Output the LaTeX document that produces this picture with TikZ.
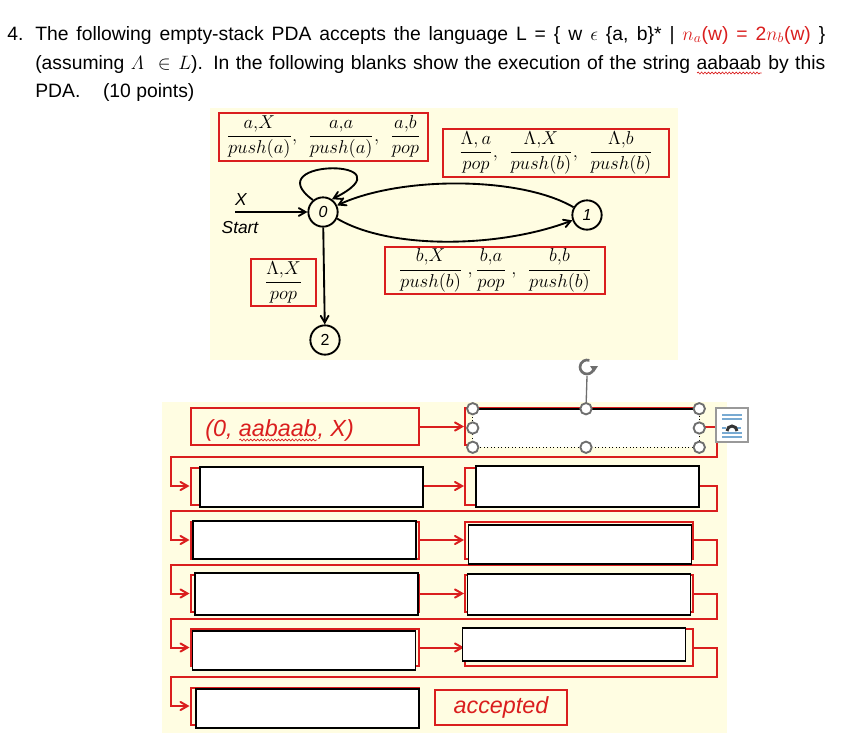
\RequirePackage{fix-cm}
\documentclass[tikz,border=0pt]{standalone}
\usepackage{amsmath,amsfonts}
\usepackage{fontspec}
\setmainfont{Liberation Sans}
\usepackage{tikz}
\usetikzlibrary{arrows,calc,decorations.pathmorphing}

\definecolor{pdared}{RGB}{218,30,30}
\definecolor{pdapaper}{RGB}{255,253,226}
\definecolor{handlegray}{RGB}{110,110,110}
\definecolor{iconblue}{RGB}{120,170,210}

\newlength\wavewd
\newcommand\spellwave[1]{\settowidth\wavewd{#1}\rlap{#1}\tikz[baseline=0pt,x=1pt,y=1pt]{\draw[pdared,line width=0.5pt,decorate,decoration={snake,amplitude=0.7pt,segment length=2.6pt}] (0,-3) -- (\wavewd,-3);}}
\newcommand\lblgap{\hspace{6pt}}

\tikzset{
  pdastate/.style={circle,draw=black,line width=1.4pt,minimum size=22pt,inner sep=0pt,font=\fontsize{12}{14}\selectfont},
  pdatext/.style={inner sep=0pt,font=\fontsize{13}{15}\selectfont\itshape},
  pdaarrow/.style={->,>=angle 60,line width=1.4pt},
  pdalabel/.style={draw=pdared,line width=1.5pt,inner sep=0pt,font=\fontsize{14}{16}\selectfont},
  slot/.style={draw=pdared,line width=1.5pt,minimum width=171pt,minimum height=27.75pt,inner sep=0pt},
  cell/.style={draw=black,fill=white,line width=0.8pt,minimum width=167.25pt,inner sep=0pt},
  link/.style={draw=pdared,line width=1.5pt,->,>=angle 60},
  grip/.style={circle,draw=handlegray,fill=white,line width=1.4pt,minimum size=8.5pt,inner sep=0pt}
}

\begin{document}
\begin{tikzpicture}[x=0.75pt,y=-0.75pt,font=\fontsize{14.5}{17}\selectfont]
    \useasboundingbox (0,0) rectangle (848,750);

    % question
    \node[anchor=base west,inner sep=0pt] (qnum) at (7,40) {4.};
    \node[anchor=base west,inner sep=0pt] (qline1) at (35,40) {\hbox to 592.5pt{The following empty-stack PDA accepts the language L = \{ w $\epsilon$ \{a, b\}* | \textcolor{pdared}{$n_a$(w) = 2$n_b$(w)} \}}};
    \node[anchor=base west,inner sep=0pt] (qline2) at (35,69) {\hbox to 592.5pt{(assuming $\mathnormal{\Lambda}\ \in L$). In the following blanks show the execution of the string \spellwave{aabaab} by this}};
    \node[anchor=base west,inner sep=0pt] (qline3) at (35,97) {PDA.\hspace{17pt}(10 points)};

    % PDA
    \fill[pdapaper] (210,108) rectangle (678,360);
    \node[pdastate] (q0) at (323,212) {\itshape 0};
    \node[pdastate] (q1) at (587,215) {\itshape 1};
    \node[pdastate] (q2) at (325,340) {2};
    \coordinate (qstart) at (235,212);
    \node[pdatext] (startX) at (241,200) {X};
    \node[pdatext] (startlbl) at (240,228) {Start};

    \draw[pdaarrow] (qstart) -- (q0);
    \draw[pdaarrow] (q0.130) .. controls (255,158) and (415,158) .. (q0.55);
    \draw[pdaarrow] (q1.150) .. controls (520,176) and (400,176) .. (q0.25);
    \draw[pdaarrow] (q0.-25) .. controls (390,250) and (500,248) .. (q1.200);
    \draw[pdaarrow] (q0) -- (q2);

    \node[pdalabel,minimum width=156.75pt,minimum height=36pt] (lbl00) at (323.5,137) {$\dfrac{a{,}X}{push(a)},\lblgap\dfrac{a{,}a}{push(a)},\lblgap\dfrac{a{,}b}{pop}$};
    \node[pdalabel,minimum width=169.5pt,minimum height=36pt] (lbl10) at (556,153) {$\dfrac{\Lambda,a}{pop},\lblgap\dfrac{\Lambda{,}X}{push(b)},\lblgap\dfrac{\Lambda{,}b}{push(b)}$};
    \node[pdalabel,minimum width=48.75pt,minimum height=35.25pt] (lbl02) at (283.5,282.5) {$\dfrac{\Lambda{,}X}{pop}$};
    \node[pdalabel,minimum width=165pt,minimum height=35.25pt] (lbl01) at (495,270.5) {$\dfrac{b{,}X}{push(b)}\;,\dfrac{b{,}a}{pop}\;,\lblgap\dfrac{b{,}b}{push(b)}$};

    % execution blanks
    \fill[pdapaper] (162,402) rectangle (727,733);
    \foreach \n/\y in {1/426.5,2/486,3/540,4/593.5,5/647.5} {
      \node[slot] (sl\n) at (304.5,\y) {};
      \node[slot] (sr\n) at (579,\y) {};
    }
    \node[slot] (sl6) at (304.5,706) {};
    \node[anchor=base west,inner sep=0pt,text=pdared,font=\fontsize{17.5}{20}\selectfont\itshape] (cfg0) at (205,436) {(0, \spellwave{aabaab}, X)};

    \foreach \n in {1,...,5} {
      \draw[link] (sl\n.east) -- (sr\n.west);
    }
    \foreach \n [evaluate=\n as \m using int(\n+1)] in {1,...,5} {
      \draw[link] (sr\n.east) -- ++(23,0) |- ($(sl\m.west)+(-18.5,-29)$) |- (sl\m.west);
    }

    \foreach \n/\lx/\ly/\lh/\rx/\ry/\rh [evaluate=\lh as \lhpt using 0.75*\lh, evaluate=\rh as \rhpt using 0.75*\rh] in {2/311.5/487/40/587.5/486.5/41, 3/304.5/540/38/580/544.5/39, 4/306.5/594/42/579/594.5/41, 5/304/650.5/39/574/644.5/33} {
      \node[cell,minimum height=\lhpt pt] (cl\n) at (\lx,\ly) {};
      \node[cell,minimum height=\rhpt pt] (cr\n) at (\rx,\ry) {};
    }
    \node[cell,minimum height=29.25pt] (cl6) at (307.5,708.5) {};

    \node[draw=pdared,line width=1.5pt,minimum width=99pt,minimum height=26.25pt,inner sep=0pt,text=pdared,font=\fontsize{17.5}{20}\selectfont\itshape] (accept) at (501,707.5) {accepted};

    % selected blank
    \node[fill=white,minimum width=169.5pt,minimum height=28.5pt,inner sep=0pt] (cr1) at (586,428) {};
    \draw[line width=1.2pt] (cr1.north west) -- (cr1.north east);
    \draw[dotted,line width=0.6pt] (cr1.north east) -- (cr1.south east) -- (cr1.south west) -- (cr1.north west);
    \coordinate (rotc) at (587,367);
    \draw[handlegray,line width=1pt] (cr1.north) -- ($(rotc)+(0,9)$);
    \foreach \a/\g in {north west/nw,north/n,north east/ne,east/e,south east/se,south/s,south west/sw,west/w} {
      \node[grip] (g\g) at (cr1.\a) {};
    }
    \draw[handlegray,line width=2pt] ($(rotc)+(7,0)$) arc[start angle=0,end angle=290,radius=7];
    \fill[handlegray] ($(rotc)+(3,-1)$) -- ($(rotc)+(11,-1)$) -- ($(rotc)+(7,5)$) -- cycle;

    \node[draw=handlegray!70,fill=white,line width=0.8pt,minimum width=24pt,minimum height=25.5pt,inner sep=0pt] (layouticon) at (732,425) {};
    \draw[iconblue,line width=1pt] (722,415) -- (742,415) (722,419) -- (742,419) (722,433) -- (742,433) (722,437) -- (742,437);
    \draw[iconblue,line width=0.8pt,dashed] (722,428) -- (727,428) (737,428) -- (742,428);
    \draw[black!80,line width=2.2pt] (727,431) arc[start angle=180,end angle=0,radius=3.75pt];

  \end{tikzpicture}
\end{document}
